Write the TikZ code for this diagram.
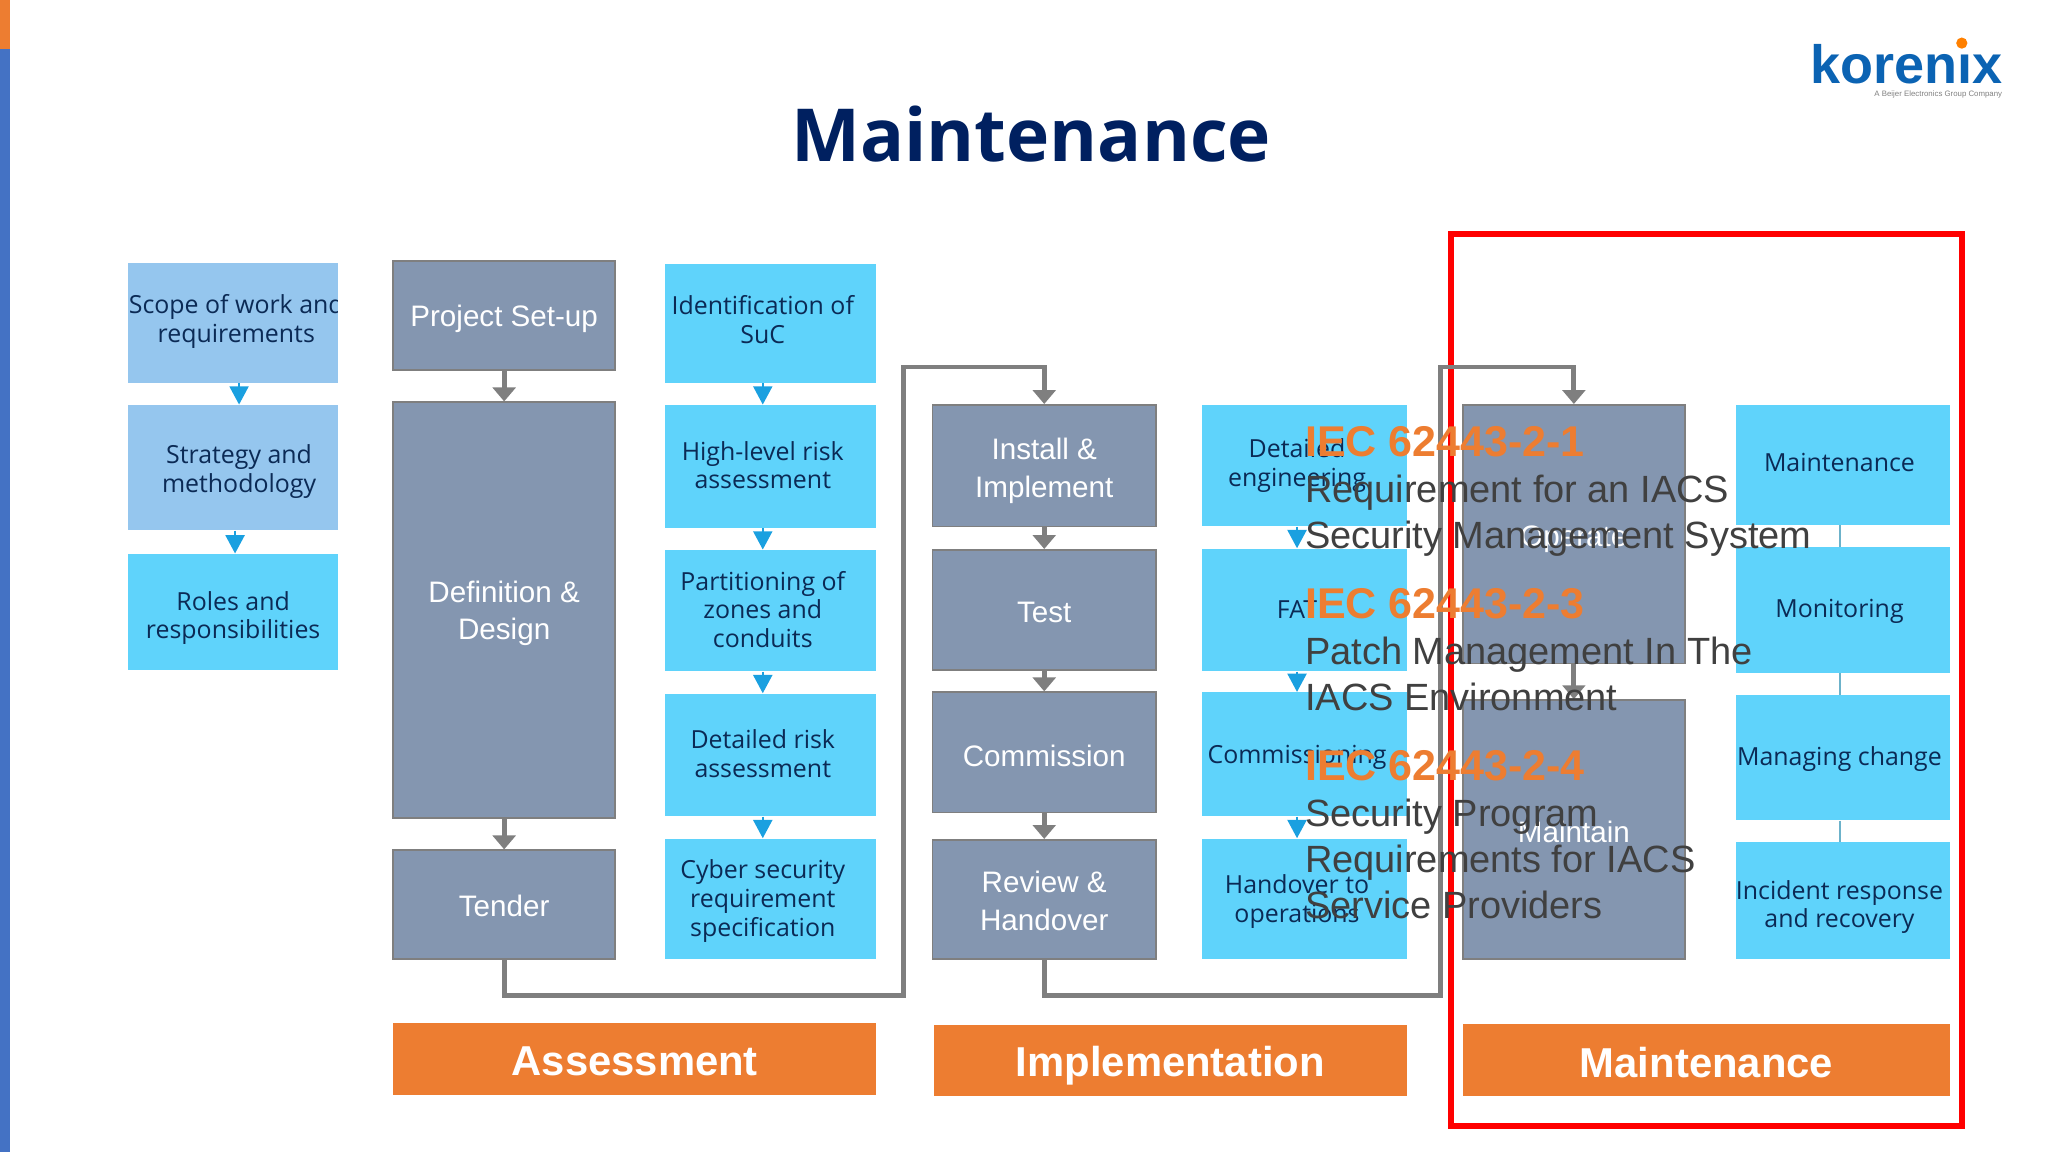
\documentclass[tikz,border=0pt]{standalone}
\usepackage{fontspec}
\setmainfont{Liberation Sans}
\newfontfamily\boxfont{Open Sans}
\usetikzlibrary{arrows.meta,fit}
\definecolor{slatebox}{HTML}{8496B0}
\definecolor{slateline}{HTML}{7F7F7F}
\definecolor{cyanbox}{HTML}{5FD3FB}
\definecolor{paleblue}{HTML}{95C6EE}
\definecolor{inknavy}{HTML}{0B2A55}
\definecolor{bandorange}{HTML}{ED7D31}
\definecolor{sideblue}{HTML}{4472C4}
\definecolor{tipblue}{HTML}{1AA0E0}
\definecolor{titlenavy}{HTML}{002060}
\definecolor{logoblue}{HTML}{0B63B3}
\tikzset{
  slate/.style={draw=slateline,line width=1pt,fill=slatebox,inner sep=0pt},
  slatetext/.style={text=white,align=center,inner sep=0pt,font=\fontsize{17}{21.5}\selectfont},
  cyan box/.style={fill=cyanbox,inner sep=0pt},
  pale box/.style={fill=paleblue,inner sep=0pt},
  inktext/.style={text=inknavy,align=center,inner sep=0pt,font=\boxfont\fontsize{14.3}{16.5}\selectfont},
  band/.style={fill=bandorange,inner sep=0pt},
  bandtext/.style={text=white,inner sep=0pt,font=\bfseries\fontsize{24}{28}\selectfont},
  grayarrow/.style={draw=slateline,line width=2.8pt,-{Triangle[width=13pt,length=8pt]}},
  bluearrow/.style={draw=tipblue,line width=1pt,-{Triangle[width=11pt,length=10.5pt]}},
  thinlink/.style={draw=cyanbox!60!gray,line width=1pt},
  iecblock/.style={anchor=north west,inner sep=0pt,align=left,text=black!75,font=\fontsize{21.8}{26.5}\selectfont},
}
\newcommand{\iechead}[1]{{\fontsize{24.7}{26.5}\selectfont\bfseries\color{bandorange}#1}}
\begin{document}
\begin{tikzpicture}[x=0.75pt,y=0.75pt,yscale=-1,xscale=1]
\useasboundingbox (0,0) rectangle (1568,882);

%side bar
\fill[bandorange] (0,0) rectangle (7.6,37.5);
\fill[sideblue] (0,37.5) rectangle (7.6,882);

%title and logo
\node (title) [text=titlenavy,font=\boxfont\bfseries\fontsize{42}{50}\selectfont] at (789.5,103) {Maintenance};
\node (logo) [text=logoblue,anchor=base,inner sep=0pt,font=\bfseries\fontsize{31}{31}\selectfont] at (1460,64) {korenıx};
\fill[orange] (1502,33) circle (4.3);
\node (logosub) [text=black!50,anchor=base,inner sep=0pt,font=\fontsize{4.5}{5}\selectfont] at (1484,74) {A Beijer Electronics Group Company};

%first column
\node (scope) [pale box,fit={(98,201) (259,293)},label={[inktext,xshift=1.8pt,yshift=0.5pt]center:Scope of work and\\requirements}] {};
\node (strategy) [pale box,fit={(98,310) (259,406)},label={[inktext,xshift=3.4pt,yshift=-2.2pt]center:Strategy and\\methodology}] {};
\node (roles) [cyan box,fit={(98,424) (259,513)},label={[inktext,yshift=-3.5pt]center:Roles and\\responsibilities}] {};
\fill[white] (259,215) rectangle (275,250);

%project column
\node (setup) [slate,fit={(301,200) (471,283)},label={[slatetext,yshift=-2pt]center:Project Set-up}] {};
\node (define) [slate,fit={(301,308) (471,626)},label={[slatetext,yshift=-2pt]center:Definition \&\\Design}] {};
\node (tender) [slate,fit={(301,651) (471,734)},label={[slatetext,yshift=-1pt]center:Tender}] {};

%assessment column
\node (identify) [cyan box,fit={(509,202) (671,293)},label={[inktext,xshift=-4.5pt,yshift=2pt]center:Identification of\\SuC}] {};
\node (highrisk) [cyan box,fit={(509,310) (671,404)},label={[inktext,xshift=-4.5pt,yshift=0.7pt]center:High-level risk\\assessment}] {};
\node (zones) [cyan box,fit={(509,421) (671,514)},label={[inktext,xshift=-4.5pt,yshift=0.7pt]center:Partitioning of\\zones and\\conduits}] {};
\node (detailrisk) [cyan box,fit={(509,531) (671,625)},label={[inktext,xshift=-4.5pt,yshift=0.7pt]center:Detailed risk\\assessment}] {};
\node (cyberspec) [cyan box,fit={(509,642) (671,734)},label={[inktext,xshift=-4.5pt,yshift=-1.5pt]center:Cyber security\\requirement\\specification}] {};

%implementation column
\node (install) [slate,fit={(714,310) (885,403)},label={[slatetext,yshift=-3pt]center:Install \&\\Implement}] {};
\node (test) [slate,fit={(714,421) (885,513)},label={[slatetext,yshift=-1.5pt]center:Test}] {};
\node (commission) [slate,fit={(714,530) (885,622)},label={[slatetext,yshift=-2pt]center:Commission}] {};
\node (review) [slate,fit={(714,643) (885,734)},label={[slatetext,yshift=-1pt]center:Review \&\\Handover}] {};

\node (engineer) [cyan box,fit={(920,310) (1077,403)},label={[inktext,xshift=-4.1pt]center:Detailed\\engineering}] {};
\node (fat) [cyan box,fit={(920,420) (1077,514)},label={[inktext,xshift=-4.1pt]center:FAT}] {};
\node (commcheck) [cyan box,fit={(920,530) (1077,625)},label={[inktext,xshift=-4.1pt,yshift=-1.5pt]center:Commissioning}] {};
\node (handover) [cyan box,fit={(920,642) (1077,734)},label={[inktext,xshift=-4.1pt,yshift=-1.5pt]center:Handover to\\operations}] {};

%maintenance column
\node (operate) [slate,fit={(1120,310) (1290,508)},label={[slatetext,yshift=-3pt]center:Operate}] {};
\node (maintain) [slate,fit={(1120,536) (1290,734)},label={[slatetext,yshift=-1.5pt]center:Maintain}] {};

\node (maintbox) [cyan box,fit={(1329,310) (1493,402)},label={[inktext,xshift=-2pt,yshift=1.5pt]center:Maintenance}] {};
\node (monitor) [cyan box,fit={(1329,419) (1493,515)},label={[inktext,xshift=-2pt,yshift=-0.7pt]center:Monitoring}] {};
\node (change) [cyan box,fit={(1329,532) (1493,628)},label={[inktext,xshift=-2pt,yshift=-0.7pt]center:Managing change}] {};
\node (incident) [cyan box,fit={(1329,645) (1493,734)},label={[inktext,xshift=-2pt,yshift=-3.7pt]center:Incident response\\and recovery}] {};

%orange bands
\node (assess) [band,fit={(301,783) (671,838)},label={[bandtext,yshift=-1.5pt]center:Assessment}] {};
\node (implement) [band,fit={(715,785) (1077,839)},label={[bandtext,yshift=-3pt]center:Implementation}] {};
\node (maintband) [band,fit={(1120,784) (1493,839)},label={[bandtext,yshift=-1.5pt]center:Maintenance}] {};

%red frame
\node (redframe) [draw=red,line width=3.3pt,inner sep=0pt,fit={(1111,179) (1502,862)}] {};

%small arrows
\draw[bluearrow] ([xshift=3.4pt]scope.south) -- ([xshift=3.4pt]strategy.north);
\draw[bluearrow] ([xshift=1.1pt]strategy.south) -- ([xshift=1.1pt]roles.north);
\draw[bluearrow] ([xshift=-4.5pt]identify.south) -- ([xshift=-4.5pt]highrisk.north);
\draw[bluearrow] ([xshift=-4.5pt]highrisk.south) -- ([xshift=-4.5pt]zones.north);
\draw[bluearrow] ([xshift=-4.5pt]zones.south) -- ([xshift=-4.5pt]detailrisk.north);
\draw[bluearrow] ([xshift=-4.5pt]detailrisk.south) -- ([xshift=-4.5pt]cyberspec.north);
\draw[bluearrow] ([xshift=-4.1pt]engineer.south) -- ([xshift=-4.1pt]fat.north);
\draw[bluearrow] ([xshift=-4.1pt]fat.south) -- ([xshift=-4.1pt]commcheck.north);
\draw[bluearrow] ([xshift=-4.1pt]commcheck.south) -- ([xshift=-4.1pt]handover.north);

\draw[thinlink] ([xshift=-1.5pt]maintbox.south) -- ([xshift=-1.5pt]monitor.north);
\draw[thinlink] ([xshift=-1.5pt]monitor.south) -- ([xshift=-1.5pt]change.north);
\draw[thinlink] ([xshift=-1.5pt]change.south) -- ([xshift=-1.5pt]incident.north);

%gray arrows
\draw[grayarrow] (setup) -- (define);
\draw[grayarrow] (define) -- (tender);
\draw[grayarrow] (install) -- (test);
\draw[grayarrow] (test) -- (commission);
\draw[grayarrow] (commission) -- (review);
\draw[grayarrow] (operate) -- (maintain);

\coordinate (turna) at (692,762);
\coordinate (turnb) at (692,281);
\coordinate (turnc) at (1103,762);
\coordinate (turnd) at (1103,281);
\draw[grayarrow] (tender.south) |- (turna) -- (turnb) -| (install.north);
\draw[grayarrow] (review.south) |- (turnc) -- (turnd) -| (operate.north);

%standards text on top
\node (part21) [iecblock] at (999,326) {\iechead{IEC 62443-2-1}\\Requirement for an IACS\\Security Management System};
\node (part23) [iecblock] at (999,450) {\iechead{IEC 62443-2-3}\\Patch Management In The\\IACS Environment};
\node (part24) [iecblock] at (999,574) {\iechead{IEC 62443-2-4}\\Security Program\\Requirements for IACS\\Service Providers};

\end{tikzpicture}
\end{document}
